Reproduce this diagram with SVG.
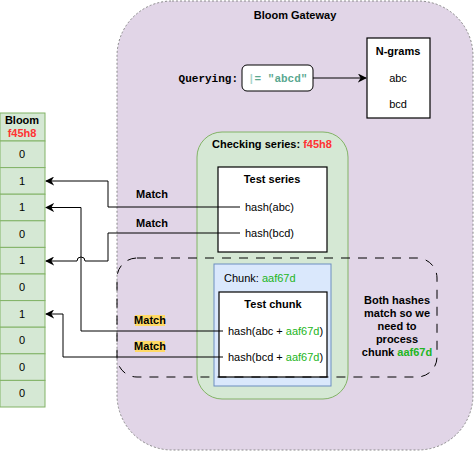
<svg xmlns="http://www.w3.org/2000/svg" width="474" height="453" viewBox="0 0 474 453">
<defs>
<style>
text{font-family:"Liberation Sans",Arial,sans-serif;font-size:11px;fill:#000}
.b{font-weight:bold}
.c{text-anchor:middle}
.mono{font-family:"Liberation Mono","DejaVu Sans Mono",monospace;font-weight:bold}
.red{fill:#ff3333}
.grn{fill:#22b522}
.cell{fill:#d5e8d4;stroke:#82b366;stroke-width:1}
.wbox{fill:#fff;stroke:#000;stroke-width:1.2}
.edge{fill:none;stroke:#000;stroke-width:1}
</style>
<marker id="arr" viewBox="0 0 10 10" refX="9" refY="5" markerWidth="9" markerHeight="9" orient="auto" markerUnits="userSpaceOnUse">
<path d="M0,0 L10,5 L0,10 L3,5 Z" fill="#000"/>
</marker>
</defs>

<g id="gateway">
<rect x="117" y="1" width="356" height="449" rx="55" fill="#e1d5e7" stroke="#8a8a8a" stroke-dasharray="2 2"/>
<text class="b c" x="295" y="19">Bloom Gateway</text>
</g>

<g id="query">
<text class="mono" x="238" y="82" text-anchor="end" font-size="11">Querying:</text>
<rect x="242" y="65" width="71" height="26" rx="5" fill="#fff" stroke="#000" stroke-width="1"/>
<text class="mono" x="248" y="82" font-size="10.5" fill="#67ab9f"><tspan fill="#a8d4cc">|</tspan><tspan fill="#5aa890">= "abcd"</tspan></text>
</g>

<g id="ngrams">
<rect class="wbox" x="367" y="38" width="63" height="80"/>
<text class="b c" x="398" y="55">N-grams</text>
<text class="c" x="398" y="82">abc</text>
<text class="c" x="398" y="108">bcd</text>
</g>

<g id="bloom">
<rect class="cell" x="0" y="113" width="45" height="28"/>
<text class="b c" x="22" y="124">Bloom</text>
<text class="b c red" x="22" y="137">f45h8</text>
<rect class="cell" x="0" y="141" width="45" height="26.6"/>
<text class="c" x="22" y="158">0</text>
<rect class="cell" x="0" y="167.6" width="45" height="26.6"/>
<text class="c" x="22" y="185">1</text>
<rect class="cell" x="0" y="194.2" width="45" height="26.6"/>
<text class="c" x="22" y="211">1</text>
<rect class="cell" x="0" y="220.8" width="45" height="26.6"/>
<text class="c" x="22" y="238">0</text>
<rect class="cell" x="0" y="247.4" width="45" height="26.6"/>
<text class="c" x="22" y="264">1</text>
<rect class="cell" x="0" y="274" width="45" height="26.6"/>
<text class="c" x="22" y="291">0</text>
<rect class="cell" x="0" y="300.6" width="45" height="26.6"/>
<text class="c" x="22" y="318">1</text>
<rect class="cell" x="0" y="327.2" width="45" height="26.6"/>
<text class="c" x="22" y="344">0</text>
<rect class="cell" x="0" y="353.8" width="45" height="26.6"/>
<text class="c" x="22" y="371">0</text>
<rect class="cell" x="0" y="380.4" width="45" height="26.6"/>
<text class="c" x="22" y="397">0</text>
</g>

<g id="checking">
<rect x="197" y="132" width="151" height="267" rx="25" fill="#d5e8d4" stroke="#82b366"/>
<text class="b c" x="272" y="148">Checking series: <tspan class="red">f45h8</tspan></text>
</g>

<g id="testseries">
<rect class="wbox" x="218" y="167" width="109" height="85"/>
<text class="b c" x="272" y="183">Test series</text>
<text x="245" y="211">hash(abc)</text>
<text x="245" y="237">hash(bcd)</text>
</g>

<g id="chunk">
<rect x="214" y="264" width="117" height="122" fill="#dae8fc" stroke="#6c8ebf"/>
<text x="224" y="282">Chunk: <tspan class="grn">aaf67d</tspan></text>
</g>

<g id="testchunk">
<rect class="wbox" x="219" y="292" width="108" height="85"/>
<text class="b c" x="273" y="308">Test chunk</text>
<text x="228" y="335">hash(abc + <tspan class="grn">aaf67d</tspan>)</text>
<text x="228" y="361">hash(bcd + <tspan class="grn">aaf67d</tspan>)</text>
</g>

<g id="note">
<rect x="117" y="258" width="320" height="119" rx="20" fill="none" stroke="#000" stroke-width="1" stroke-dasharray="9 8"/>
<text class="b c" x="397" y="304">Both hashes</text>
<text class="b c" x="397" y="317">match so we</text>
<text class="b c" x="397" y="330">need to</text>
<text class="b c" x="397" y="343">process</text>
<text class="b c" x="397" y="356">chunk <tspan class="grn">aaf67d</tspan></text>
</g>

<g id="connectors">
<line class="edge" x1="313" y1="78" x2="366" y2="78" marker-end="url(#arr)"/>
<path class="edge" d="M240,207 H108 V181 H46" marker-end="url(#arr)"/>
<path class="edge" d="M240,233 H108 V261 H85 A4,4 0 0 0 77,261 H46" marker-end="url(#arr)"/>
<path class="edge" d="M223,331 H81 V207.5 H46" marker-end="url(#arr)"/>
<path class="edge" d="M223,357 H63 V314 H46" marker-end="url(#arr)"/>
<text class="b c" x="152" y="198">Match</text>
<text class="b c" x="152" y="227">Match</text>
<rect x="135" y="315" width="30" height="11" fill="#ffd966"/>
<text class="b c" x="150" y="324">Match</text>
<rect x="135" y="341" width="30" height="11" fill="#ffd966"/>
<text class="b c" x="150" y="350">Match</text>
</g>
</svg>
